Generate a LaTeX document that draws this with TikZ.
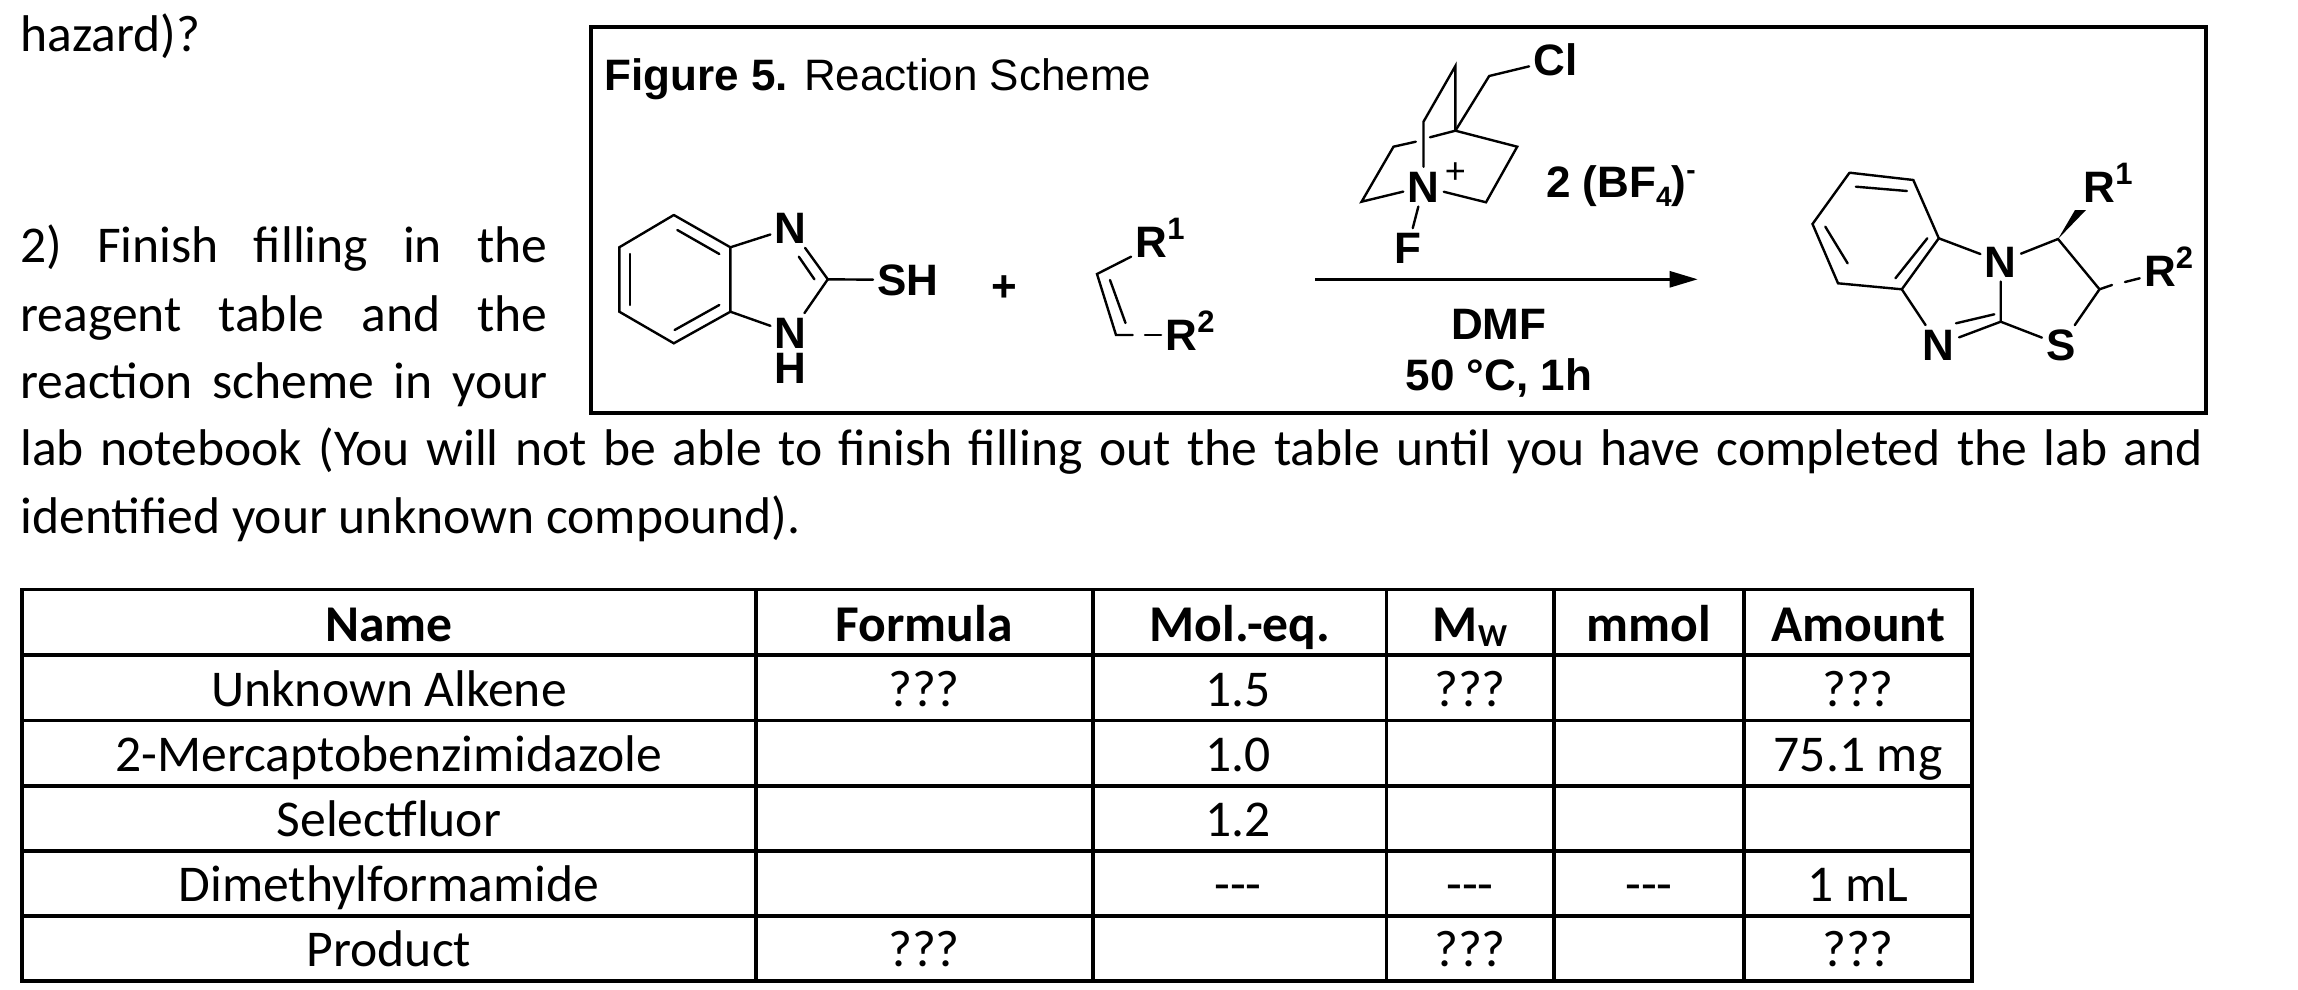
\documentclass[tikz,border=0pt]{standalone}
\usepackage{fontspec}
\setmainfont{Carlito}
\newfontfamily\chemfont{Liberation Sans}
\usetikzlibrary{arrows.meta}
\newcommand{\supnum}[1]{\raisebox{0.42em}{\fontsize{15.5}{15.5}\selectfont #1}}
\tikzstyle{body}=[anchor=base west,inner sep=0pt,font=\fontsize{25.8}{25.8}\selectfont]
\tikzstyle{cell}=[anchor=base,inner sep=0pt,font=\fontsize{25.8}{25.8}\selectfont]
\tikzstyle{head}=[cell,font=\fontsize{25.8}{25.8}\selectfont\bfseries]
\tikzstyle{atm}=[inner sep=2pt,text height=15.5pt,text depth=0pt,
  font=\fontsize{22}{22}\selectfont\chemfont\bfseries]
\tikzstyle{bond}=[line width=1.2pt,line cap=round]
\tikzstyle{rule}=[line width=1.6pt,line cap=rect]
\begin{document}
\begin{tikzpicture}[x=0.5pt,y=-0.5pt]
    \useasboundingbox (0,0) rectangle (2298,990);
    \node [style=body] (q1) at (20,52) {hazard)?};
    \node [style=body] (q2a) at (20,263) {\makebox[263.5pt][s]{2) Finish filling in the}};
    \node [style=body] (q2b) at (20,331) {\makebox[263.5pt][s]{reagent table and the}};
    \node [style=body] (q2c) at (20,398) {\makebox[263.5pt][s]{reaction scheme in your}};
    \node [style=body] (q2d) at (20,465) {\makebox[1091.5pt][s]{lab notebook (You will not be able to finish filling out the table until you have completed the lab and}};
    \node [style=body] (q2e) at (20,533) {identified your unknown compound).};
    \draw [line width=1.7pt] (591,27) rectangle (2206,413);
    \node [anchor=base west,inner sep=0pt,font=\fontsize{22}{22}\selectfont\chemfont] (fig) at (604,91) {\textbf{Figure 5.} Reaction Scheme};
    \coordinate (a1) at (673.8,215);
    \coordinate (a2) at (730.4,247.3);
    \coordinate (a3) at (730.4,311.7);
    \coordinate (a4) at (673.8,343.3);
    \coordinate (a5) at (619.3,311.7);
    \coordinate (a6) at (619.3,247.3);
    \coordinate (a7) at (827.8,279.3);
    \coordinate (ai1) at (677.3,230);
    \coordinate (ai2) at (719.3,254);
    \coordinate (ai3) at (630,254);
    \coordinate (ai4) at (630,305);
    \coordinate (ai5) at (674.6,330);
    \coordinate (ai6) at (719.3,305);
    \coordinate (ai7) at (798.8,256.7);
    \coordinate (ai8) at (814.4,279.3);
    \node [style=atm] (an) at (790.7,228) {N};
    \node [style=atm] (anh) at (790.7,333) {N};
    \node [style=atm] (ah) at (790.7,368) {H};
    \node [style=atm] (ash) at (908,280) {SH};
    \draw [style=bond] (a1) to (a2) to (a3) to (a4) to (a5) to (a6) to (a1);
    \draw [style=bond] (ai1) to (ai2);
    \draw [style=bond] (ai3) to (ai4);
    \draw [style=bond] (ai5) to (ai6);
    \draw [style=bond] (ai7) to (ai8);
    \draw [style=bond] (a2) to (an);
    \draw [style=bond] (a3) to (anh);
    \draw [style=bond] (a7) to (an);
    \draw [style=bond] (a7) to (anh);
    \draw [style=bond] (a7) to (ash);
    \node [style=atm] (plus) at (1004,286) {+};
    \coordinate (b1) at (1097,274);
    \coordinate (b2) at (1116,335);
    \coordinate (b3) at (1132.7,335);
    \coordinate (b4) at (1145,335);
    \coordinate (bi1) at (1110,280);
    \coordinate (bi2) at (1125.5,323);
    \node [style=atm] (br1) at (1160,242) {R\supnum{1}};
    \node [style=atm] (br2) at (1190,335) {R\supnum{2}};
    \draw [style=bond] (br1) to (b1) to (b2) to (b3);
    \draw [style=bond] (bi1) to (bi2);
    \draw [style=bond] (b4) to (br2);
    \coordinate (c4) at (1455.4,130.7);
    \coordinate (c5) at (1489.2,76);
    \coordinate (c6) at (1455.4,66);
    \coordinate (c7) at (1423.5,121.7);
    \coordinate (c8) at (1430,137.3);
    \coordinate (c9) at (1415.8,141.7);
    \coordinate (c10) at (1393.5,146.7);
    \coordinate (c11) at (1361.6,201.7);
    \coordinate (c12) at (1517.2,146.7);
    \coordinate (c13) at (1486,202.3);
    \node [style=atm] (cn) at (1423.5,186.7) {N};
    \node [style=atm] (ccl) at (1555.5,60) {Cl};
    \node [style=atm] (cf) at (1407.6,248) {F};
    \node [inner sep=0pt,font=\fontsize{18}{18}\selectfont\chemfont] (cplus) at (1455.4,173) {+};
    \node [style=atm] (bf) at (1621,182) {2 (BF\raisebox{-0.2em}{\fontsize{14}{14}\selectfont 4})\raisebox{0.42em}{\fontsize{14}{14}\selectfont -}};
    \draw [style=bond] (ccl) to (c5) to (c4);
    \draw [style=bond] (c4) to (c6) to (c7) to (cn);
    \draw [style=bond] (c4) to (c8);
    \draw [style=bond] (c9) to (c10) to (c11) to (cn);
    \draw [style=bond] (c4) to (c12) to (c13) to (cn);
    \draw [style=bond] (cn) to (cf);
    \coordinate (arr1) at (1315,279.3);
    \coordinate (arr2) at (1697.7,279.3);
    \draw [line width=1.3pt,-{Triangle[length=14pt,width=8pt]}] (arr1) to (arr2);
    \node [style=atm] (dmf) at (1498.8,324) {DMF};
    \node [style=atm] (cond) at (1498.8,375) {50 °C, 1h};
    \coordinate (d1) at (1849.5,172.7);
    \coordinate (d2) at (1913.3,180);
    \coordinate (d3) at (1938.8,238.3);
    \coordinate (d4) at (1901.8,289.3);
    \coordinate (d5) at (1838,283.3);
    \coordinate (d6) at (1812.5,224);
    \coordinate (di1) at (1855.9,186.7);
    \coordinate (di2) at (1906.9,191);
    \coordinate (di3) at (1825.3,226.7);
    \coordinate (di4) at (1847.6,263.3);
    \coordinate (di5) at (1895.4,278.3);
    \coordinate (di6) at (1927.3,238.3);
    \coordinate (d7) at (2058,239);
    \coordinate (d8) at (2099.5,289.3);
    \coordinate (d9) at (2000.7,321.7);
    \coordinate (di7) at (1994.3,314.3);
    \coordinate (di8) at (1956,323.3);
    \coordinate (d10) at (2112,285);
    \coordinate (d11) at (2125,282);
    \coordinate (w1) at (2075,210);
    \coordinate (w2) at (2086,210);
    \node [style=atm] (dn) at (2000.7,261.7) {N};
    \node [style=atm] (dn2) at (1938.8,345) {N};
    \node [style=atm] (ds) at (2061,345) {S};
    \node [style=atm] (dr1) at (2108,187.5) {R\supnum{1}};
    \node [style=atm] (dr2) at (2168.6,271) {R\supnum{2}};
    \draw [style=bond] (d1) to (d2) to (d3) to (d4) to (d5) to (d6) to (d1);
    \draw [style=bond] (di1) to (di2);
    \draw [style=bond] (di3) to (di4);
    \draw [style=bond] (di5) to (di6);
    \draw [style=bond] (d3) to (dn);
    \draw [style=bond] (d4) to (dn2);
    \draw [style=bond] (dn) to (d7) to (d8) to (ds);
    \draw [style=bond] (dn) to (d9) to (ds);
    \draw [style=bond] (d9) to (dn2);
    \draw [style=bond] (di7) to (di8);
    \draw [style=bond] (d8) to (d10);
    \draw [style=bond] (d11) to (dr2);
    \fill (d7) -- (w1) -- (w2) -- cycle;
    \draw [style=rule] (22,589.5) to (1972,589.5);
    \draw [style=rule] (22,655) to (1972,655);
    \draw [style=rule] (22,720.5) to (1972,720.5);
    \draw [style=rule] (22,786) to (1972,786);
    \draw [style=rule] (22,851) to (1972,851);
    \draw [style=rule] (22,916) to (1972,916);
    \draw [style=rule] (22,981) to (1972,981);
    \draw [style=rule] (22,589.5) to (22,981);
    \draw [style=rule] (756,589.5) to (756,981);
    \draw [style=rule] (1093,589.5) to (1093,981);
    \draw [style=rule] (1386.5,589.5) to (1386.5,981);
    \draw [style=rule] (1554,589.5) to (1554,981);
    \draw [style=rule] (1744,589.5) to (1744,981);
    \draw [style=rule] (1972,589.5) to (1972,981);
    \node [style=head] (h1) at (389,641) {Name};
    \node [style=head] (h2) at (924,641) {Formula};
    \node [style=head] (h3) at (1240,641) {Mol.-eq.};
    \node [style=head] (h4) at (1470,641) {M\raisebox{-0.1em}{\fontsize{16}{16}\selectfont W}};
    \node [style=head] (h5) at (1649,641) {mmol};
    \node [style=head] (h6) at (1858,641) {Amount};
    \node [style=cell] (n1) at (389,706) {Unknown Alkene};
    \node [style=cell] (n2) at (389,771) {2-Mercaptobenzimidazole};
    \node [style=cell] (n3) at (389,836) {Selectfluor};
    \node [style=cell] (n4) at (389,901) {Dimethylformamide};
    \node [style=cell] (n5) at (389,966) {Product};
    \node [style=cell] (f1) at (924,706) {???};
    \node [style=cell] (f5) at (924,966) {???};
    \node [style=cell] (e1) at (1238,706) {1.5};
    \node [style=cell] (e2) at (1238,771) {1.0};
    \node [style=cell] (e3) at (1238,836) {1.2};
    \node [style=cell] (e4) at (1238,901) {-{}-{}-};
    \node [style=cell] (w1t) at (1470,706) {???};
    \node [style=cell] (w4) at (1470,901) {-{}-{}-};
    \node [style=cell] (w5) at (1470,966) {???};
    \node [style=cell] (m4) at (1649,901) {-{}-{}-};
    \node [style=cell] (q1t) at (1858,706) {???};
    \node [style=cell] (q2t) at (1858,771) {75.1 mg};
    \node [style=cell] (q4t) at (1858,901) {1 mL};
    \node [style=cell] (q5t) at (1858,966) {???};
\end{tikzpicture}
\end{document}
